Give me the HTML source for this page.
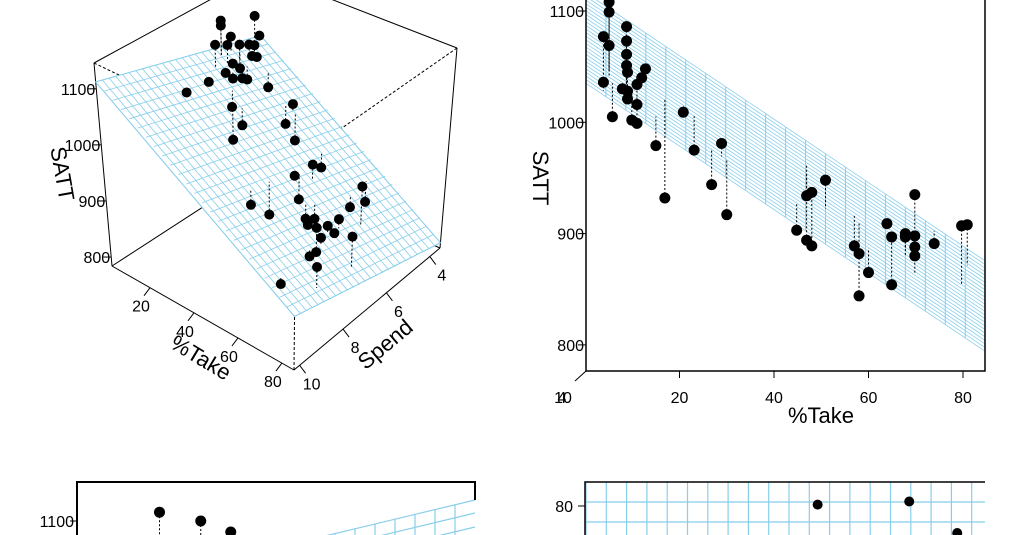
<!DOCTYPE html>
<html><head><meta charset="utf-8"><style>
html,body{margin:0;padding:0;background:#fff;overflow:hidden;width:1020px;height:535px;}
svg{display:block;font-family:"Liberation Sans",sans-serif;}
</style></head><body>
<svg id="chart" width="1020" height="535" viewBox="0 0 1020 535" xmlns="http://www.w3.org/2000/svg">
<defs>
<clipPath id="clipR"><rect x="586" y="0" width="399" height="371"/></clipPath>
<clipPath id="clipBL"><rect x="77" y="482" width="398" height="53"/></clipPath>
<clipPath id="clipBR"><rect x="585" y="482" width="400" height="53"/></clipPath>
<clipPath id="clipAll"><rect x="0" y="0" width="1020" height="535"/></clipPath>
</defs>
<g clip-path="url(#clipAll)">
<g id="p3d"></g>
<g id="p2d"></g>
<g id="pbl"></g>
<g id="pbr"></g>
</g>
</svg>
<script>
// ---- data ----
const takeVals  = [5.1,5.1,3.9,5.1,3.9,8.8,8.8,8.8,8.8,9,7.9,9,9,5.8,9.9,11,11,11,12,12.8,20.8,15,23.1,16.9,26.8,28.9,30,44.8,46.9,48,46.9,48,50.9,57,58,58,60,63.9,64.9,64.9,67.8,67.8,69.8,69.8,69.8,69.8,73.9,79.7,80.9];
const sattVals  = [1108,1099,1077,1069,1036,1086,1073,1061,1051,1045,1030,1028,1021,1005,1002,999,1016,1034,1040,1048,1009,979,975,932,944,981,917,903,934,937,894,889,948,889,882,844,865,909,897,854,900,897,935,898,888,880,891,907,908];
const spendVals = [5.4,5.4,3.9,5.0,3.7,6.0,5.5,5.0,4.6,4.4,5.2,4.5,4.3,4.7,5.0,4.9,5.5,5.8,6.6,7.6,6.5,4.4,6.3,6.1,4.8,4.7,4.7,5.0,8.3,6.5,7.5,6.3,6.0,6.9,6.6,4.3,5.2,7.5,7.2,7.2,7.0,6.5,5.7,7.5,6.9,8.0,9.7,7.1,8.8];
const coefIntercept = 993.8, coefTake = -2.85, coefSpend = 12.3;
const zTicks = [800,900,1000,1100];
const takeTicks = [20,40,60,80];
const spendTicks = [4,6,8,10];
const xTicks2d = [20,40,60,80];
const bottomLeftPts = [[11,1108],[16.5,1100],[20.5,1090]];
const bottomRightPts = [[47,80.3],[65.5,81],[75.2,74]];

const NS="http://www.w3.org/2000/svg";
function mk(parent,tag,attrs,text){const e=document.createElementNS(NS,tag);for(const k in attrs)e.setAttribute(k,attrs[k]);if(text!==undefined)e.textContent=text;parent.appendChild(e);return e;}
const fit=(t,s)=>coefIntercept+coefTake*t+coefSpend*s;
const BLUE="#87ceeb";

// ---------- 3D panel ----------
const g3=document.getElementById('p3d');
const TMIN=2.7,TMAX=85.5,SMAX=10.26,SMIN=3.53,ZMIN=784,ZMAX=1146;
const B=[[[112,266],[260,170]],[[294,370],[440,248]]];
const T=[[[94,63],[261,-28]],[[296,160],[457,48]]];
function bil(C,a,b){return [0,1].map(i=>C[0][0][i]*(1-a)*(1-b)+C[1][0][i]*a*(1-b)+C[1][1][i]*a*b+C[0][1][i]*(1-a)*b);}
function P3(t,s,z){const a=(t-TMIN)/(TMAX-TMIN),b=(SMAX-s)/(SMAX-SMIN),c=(z-ZMIN)/(ZMAX-ZMIN);const lo=bil(B,a,b),hi=bil(T,a,b);return [lo[0]+(hi[0]-lo[0])*c,lo[1]+(hi[1]-lo[1])*c];}
function line(g,p,q,attrs){return mk(g,'line',Object.assign({x1:p[0],y1:p[1],x2:q[0],y2:q[1]},attrs));}
const bx=mk(g3,'g',{});


const sk={stroke:'#000','stroke-width':1};
line(bx,B[0][0],B[0][1],sk);line(bx,B[0][1],B[1][1],sk);
line(bx,B[0][0],B[1][0],sk);line(bx,B[1][0],B[1][1],sk);
line(bx,B[0][0],T[0][0],sk);line(bx,B[1][1],T[1][1],sk);
line(bx,T[0][0],T[0][1],sk);line(bx,T[1][1],T[0][1],sk);
const pl=mk(g3,'g',{});


const c1=P3(TMIN,SMAX,fit(TMIN,SMAX)),c2=P3(TMAX,SMAX,fit(TMAX,SMAX)),c3=P3(TMAX,SMIN,fit(TMAX,SMIN)),c4=P3(TMIN,SMIN,fit(TMIN,SMIN));
mk(pl,'polygon',{points:[c1,c2,c3,c4].map(p=>p.join(',')).join(' '),fill:'#fff',stroke:BLUE,'stroke-width':1});
const NT=25,NS2=25;
for(let i=0;i<=NT;i++){const t=TMIN+(TMAX-TMIN)*i/NT;line(pl,P3(t,SMAX,fit(t,SMAX)),P3(t,SMIN,fit(t,SMIN)),{stroke:BLUE,'stroke-width':0.8});}
for(let j=0;j<=NS2;j++){const s=SMIN+(SMAX-SMIN)*j/NS2;line(pl,P3(TMIN,s,fit(TMIN,s)),P3(TMAX,s,fit(TMAX,s)),{stroke:BLUE,'stroke-width':0.8});}
const dsh={stroke:'#000','stroke-width':1,'stroke-dasharray':'3,2'};
line(bx,B[1][0],T[1][0],dsh);line(bx,T[0][0],T[1][0],dsh);line(bx,T[1][1],T[1][0],dsh);
const pts3=mk(g3,'g',{});


takeVals.forEach((t,i)=>{const s=spendVals[i],z=sattVals[i];const p=P3(t,s,z),q=P3(t,s,fit(t,s));
 line(pts3,p,q,{stroke:'#000','stroke-width':1,'stroke-dasharray':'2,2'});
 const c=mk(pts3,'circle',{cx:p[0],cy:p[1],r:5,fill:'#000'});
 
 });
const tx={'font-size':16,fill:'#000'};
zTicks.forEach(z=>{const p=P3(TMIN,SMAX,z);line(g3,p,[p[0]-8,p[1]],sk);const l=mk(g3,'text',Object.assign({x:p[0]-1,y:p[1]+6,'text-anchor':'end'},tx),String(z));});
takeTicks.forEach(t=>{const p=P3(t,SMAX,ZMIN);line(g3,p,[p[0]-6,p[1]+8],sk);const l=mk(g3,'text',Object.assign({x:p[0]-9,y:p[1]+24,'text-anchor':'middle'},tx),String(t));});
spendTicks.forEach(s=>{const p=P3(TMAX,s,ZMIN);line(g3,p,[p[0]+6,p[1]+8],sk);const l=mk(g3,'text',Object.assign({x:p[0]+12,y:p[1]+24,'text-anchor':'middle'},tx),String(s));});
let a1=mk(g3,'text',{x:0,y:0,'font-size':22,'text-anchor':'middle',transform:'translate(197,364) rotate(31)'},'%Take');

a1=mk(g3,'text',{x:0,y:0,'font-size':22,'text-anchor':'middle',transform:'translate(390,350) rotate(-40)'},'Spend');

a1=mk(g3,'text',{x:0,y:0,'font-size':22,'text-anchor':'middle',transform:'translate(55,175) rotate(80)'},'SATT');


// ---------- 2D panel ----------
const g2=document.getElementById('p2d');
const X=t=>585+t*4.725, Y=z=>11+(1100-z)*1.113;
const gr=mk(g2,'g',{'clip-path':'url(#clipR)'});


const T0=0.2,T1=84.7,S0=3.4,S1=10;
for(let i=0;i<=20;i++){const t=T0+(T1-T0)*i/20;line(gr,[X(t),Y(fit(t,S1))],[X(t),Y(fit(t,S0))],{stroke:BLUE,'stroke-width':1});}
for(let j=0;j<=25;j++){const s=S0+(S1-S0)*j/25;line(gr,[X(T0),Y(fit(T0,s))],[X(T1),Y(fit(T1,s))],{stroke:BLUE,'stroke-width':0.8});}
const pts2=mk(g2,'g',{'clip-path':'url(#clipR)'});


takeVals.forEach((t,i)=>{const s=spendVals[i],z=sattVals[i];
 line(pts2,[X(t),Y(z)],[X(t),Y(fit(t,s))],{stroke:'#000','stroke-width':1,'stroke-dasharray':'2,2'});
 const c=mk(pts2,'circle',{cx:X(t),cy:Y(z),r:5.5,fill:'#000'});
 
 });
const ax=mk(g2,'polyline',{points:'586,0 586,371 985,371 985,0',fill:'none',stroke:'#000','stroke-width':1.5});

line(g2,[586,371],[575,381],sk);
zTicks.forEach(z=>{line(g2,[586,Y(z)],[578,Y(z)],sk);const l=mk(g2,'text',Object.assign({x:584,y:Y(z)+6,'text-anchor':'end'},tx),String(z));});
xTicks2d.forEach(t=>{line(g2,[X(t),371],[X(t),378],sk);const l=mk(g2,'text',Object.assign({x:X(t),y:403,'text-anchor':'middle'},tx),String(t));});
let o=mk(g2,'text',Object.assign({x:563,y:403,'text-anchor':'middle'},tx),'10');
o=mk(g2,'text',Object.assign({x:562,y:403,'text-anchor':'middle'},tx),'4');
o=mk(g2,'text',{x:821,y:423,'font-size':22,'text-anchor':'middle'},'%Take');
o=mk(g2,'text',{x:0,y:0,'font-size':22,'text-anchor':'middle',transform:'translate(533,178) rotate(90)'},'SATT');

// ---------- bottom-left ----------
const gb=document.getElementById('pbl');
const gbg=mk(gb,'g',{'clip-path':'url(#clipBL)'});
[500,513,527,541].forEach(yr=>line(gbg,[475,yr],[325,yr+36],{stroke:BLUE,'stroke-width':1.2}));
for(let x=335;x<=455;x+=20){line(gbg,[x,535],[x,500+(475-x)*0.24],{stroke:BLUE,'stroke-width':1.2});}
const BX=t=>77+t*7.5, BY=z=>521+(1100-z)*1.1;
bottomLeftPts.forEach(p=>{line(gb,[BX(p[0]),BY(p[1])],[BX(p[0]),535],{stroke:'#000','stroke-width':1,'stroke-dasharray':'2,2'});const c=mk(gb,'circle',{cx:BX(p[0]),cy:BY(p[1]),r:5.5,fill:'#000'});});
mk(gb,'polyline',{points:'77,535 77,482 475,482 475,500',fill:'none',stroke:'#000','stroke-width':2});
line(gb,[77,521],[70,521],sk);
o=mk(gb,'text',Object.assign({x:74,y:527,'text-anchor':'end'},tx),'1100');

// ---------- bottom-right ----------
const gr2=document.getElementById('pbr');
const gg=mk(gr2,'g',{'clip-path':'url(#clipBR)'});
for(let x=586;x<=985;x+=20.3){line(gg,[x,482],[x,535],{stroke:BLUE,'stroke-width':1.2});}
[502,522].forEach(y=>line(gg,[585,y],[985,y],{stroke:BLUE,'stroke-width':1.2}));
const RX=t=>585+t*4.95, RY=v=>506+(80-v)*4.5;
bottomRightPts.forEach(p=>{const c=mk(gr2,'circle',{cx:RX(p[0]),cy:RY(p[1]),r:5,fill:'#000'});});
mk(gr2,'polyline',{points:'585,535 585,482 985,482',fill:'none',stroke:'#000','stroke-width':1.5});
line(gr2,[585,506],[578,506],sk);
o=mk(gr2,'text',Object.assign({x:573,y:512,'text-anchor':'end'},tx),'80');
</script>
</body></html>
